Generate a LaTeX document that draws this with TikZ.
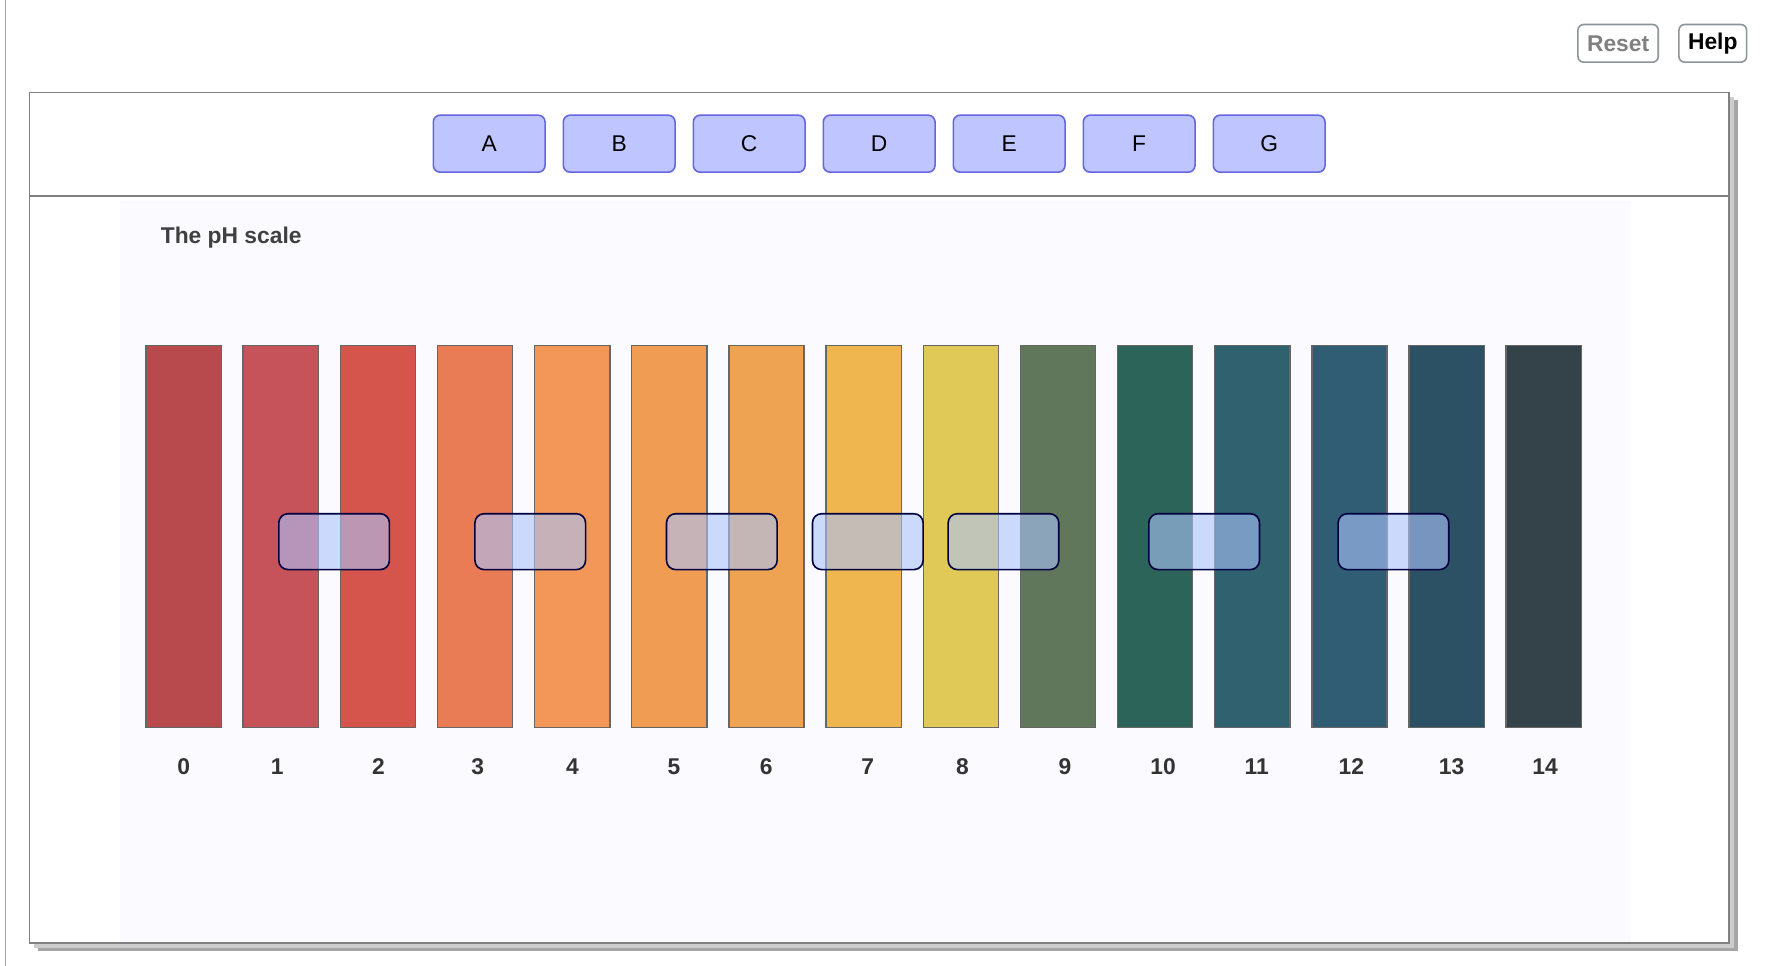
\documentclass[tikz,border=0pt]{standalone}
\usepackage{fontspec}
\setmainfont{Liberation Sans}
\begin{document}
\begin{tikzpicture}[x=0.5pt,y=-0.5pt,
 btn/.style={draw=black!20!blue!60!white,fill=blue!30!cyan!15!blue!25!white,rounded corners=3pt,line width=0.7pt,minimum width=49pt,minimum height=25pt,font=\fontsize{10}{12}\selectfont},
 tbtn/.style={draw=gray!90!cyan,rounded corners=2.5pt,line width=0.7pt,minimum height=16.5pt,font=\bfseries\fontsize{10}{12}\selectfont,inner xsep=4pt},
 bar/.style={draw=black!60,line width=0.6pt},
 lab/.style={font=\bfseries\fontsize{10}{12}\selectfont,text=black!80},
 ovl/.style={draw=black!75!blue,line width=0.7pt,rounded corners=4pt,fill={rgb,255:red,170;green,195;blue,250},fill opacity=0.6,minimum width=48.5pt,minimum height=24.5pt}]
\useasboundingbox (0,0) rectangle (1568,847);
\fill[white] (0,0) rectangle (1568,847);
\draw[gray!70] (5,0) -- (5,847);
\node[tbtn,text=gray] (reset) at (1419,38) {Reset};
\node[tbtn] (help) at (1502,38) {Help};
\fill[black!35] (33,88) rectangle (1524,834);
\fill[black!20] (30,85) rectangle (1521,831);
\draw[gray,fill=white,line width=0.7pt] (26,81) rectangle (1516,827);
\draw[gray,line width=0.7pt] (26,172) -- (1516,172);
\fill[blue!2!white] (105,176) rectangle (1430,826);
\foreach \t [count=\i from 0] in {A,B,C,D,E,F,G}
  \node[btn] (b\t) at (429+114*\i,126) {\t};
\node[font=\bfseries\fontsize{10}{12}\selectfont,text=black!75,anchor=west] (title) at (134,208) {The pH scale};
\foreach \c [count=\i from 0] in {B84A4E,C6525A,D5554D,E97B55,F39759,F09C53,EEA352,EFB54F,E1C957,61775B,2C6459,2F616E,305D74,2C5064,344349}{
  \definecolor{bc\i}{HTML}{\c}
  \draw[bar,fill=bc\i] ({128+85.2*\i},303) rectangle ++(66,335);
}
\foreach \x [count=\i from 0] in {161,243,332,419,502,591,672,761,844,934,1020,1102,1185,1273,1355}
  \node[lab] (l\i) at (\x,672) {\i};
\foreach \x [count=\i] in {293,465,633,761,880,1056,1222}
  \node[ovl] (o\i) at (\x,475) {};
\end{tikzpicture}
\end{document}
